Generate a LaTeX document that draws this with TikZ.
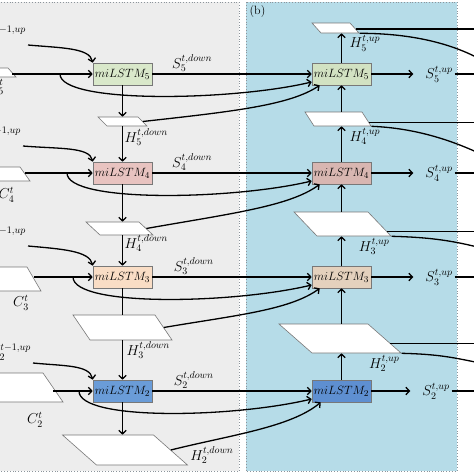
\documentclass[tikz,border=0pt]{standalone}
\usepackage{tikz}
\usetikzlibrary{positioning,calc,arrows.meta}

\definecolor{sfondogrigio}{RGB}{237,237,237}
\definecolor{sfondoblu}{RGB}{182,220,232}
\definecolor{puntini}{RGB}{140,148,155}
\definecolor{bordoblocco}{RGB}{120,120,120}
\definecolor{verde}{RGB}{217,232,202}
\definecolor{rosa}{RGB}{232,195,192}
\definecolor{pesca}{RGB}{249,221,197}
\definecolor{blu}{RGB}{106,156,216}
\definecolor{verdescuro}{RGB}{210,226,194}
\definecolor{rosascuro}{RGB}{216,182,177}
\definecolor{pescascuro}{RGB}{228,209,189}
\definecolor{bluscuro}{RGB}{94,143,209}

\tikzset{
    lstmnet/.style={
        x=1pt, y=-1pt,
        line width=1.3pt,
        % Stile per i blocchi miLSTM (rettangolare)
        milstm/.style={draw=bordoblocco, line width=0.6pt, rectangle,
                       minimum width=59pt, minimum height=22pt,
                       inner sep=0pt, font=\fontsize{12.5}{14}\selectfont},
        % Stile per le etichette degli stati
        etichetta/.style={inner sep=1.5pt, font=\fontsize{14}{16}\selectfont},
        % Stile per le frecce
        freccia/.style={-{Straight Barb[length=3.5pt,width=7.5pt]}},
        % Stile per i pannelli (bordo a puntini)
        pannello/.style={draw=puntini, line width=0.8pt, dotted}
    },
    % Stile per gli stati (parallelogramma): lato, altezza, inclinazione
    stato/.style n args={3}{draw=bordoblocco, fill=white, line width=0.6pt,
        rectangle, inner sep=0pt,
        minimum width=#1, minimum height=#2, xslant=#3}
}

\begin{document}
\begin{tikzpicture}[lstmnet]
    \useasboundingbox (0,0) rectangle (474,474);
    \clip (0,0) rectangle (474,474);
    % pannelli
    \fill[sfondogrigio] (-10,2) rectangle (239,471);
    \draw[pannello] (-10,2) -- (239,2) -- (239,471) -- (-10,471);
    \draw[pannello, fill=sfondoblu] (246,2) rectangle (457,471);
    \node[anchor=north west, inner sep=0pt, font=\fontsize{12}{14}\selectfont] (b) at (249,5) {(b)};
    \coordinate (bordo) at (485,0);

    % pannello di sinistra (verso il basso)
    \node[milstm, fill=verde] (L5) at (122.5,74) {$miLSTM_5$};
    \node[milstm, fill=rosa]  (L4) at (122.5,173) {$miLSTM_4$};
    \node[milstm, fill=pesca] (L3) at (122.5,277) {$miLSTM_3$};
    \node[milstm, fill=blu]   (L2) at (122.5,391) {$miLSTM_2$};
    \node[stato={40pt}{9pt}{-1}]       (Hd5) at (122.5,121.5) {};
    \node[stato={53pt}{13pt}{-1.077}]  (Hd4) at (119.5,228.5) {};
    \node[stato={82pt}{25pt}{-0.68}]   (Hd3) at (122.5,327.5) {};
    \node[stato={91pt}{30pt}{-1.133}]  (Hd2) at (125,450) {};
    \node[stato={41pt}{9pt}{-0.89}]    (C5) at (-8.5,72.5) {};
    \node[stato={57pt}{14pt}{-0.714}]  (C4) at (-3.5,174) {};
    \node[stato={83pt}{24pt}{-0.583}]  (C3) at (-7.5,279) {};
    \node[stato={104pt}{29pt}{-0.69}]  (C2) at (1,387.5) {};
    \node[etichetta] (Ct5) at (-4,87) {$C_5^t$};
    \node[etichetta] (Ct4) at (6.5,195) {$C_4^t$};
    \node[etichetta] (Ct3) at (21,303) {$C_3^t$};
    \node[etichetta] (Ct2) at (35,420) {$C_2^t$};
    \node[etichetta, anchor=south east] (Sp5) at (28,45) {$S_5^{t-1,up}$};
    \node[etichetta, anchor=south east] (Sp4) at (23,146) {$S_4^{t-1,up}$};
    \node[etichetta, anchor=south east] (Sp3) at (28,246) {$S_3^{t-1,up}$};
    \node[etichetta, anchor=south east] (Sp2) at (33,363) {$S_2^{t-1,up}$};
    \coordinate (c5) at (60,74);
    \coordinate (c4) at (67,173);
    \coordinate (c3) at (73,277);
    \coordinate (c2) at (79,391);

    % pannello (b) (verso l'alto)
    \node[milstm, fill=verdescuro] (R5) at (341.5,74) {$miLSTM_5$};
    \node[milstm, fill=rosascuro]  (R4) at (341.5,173) {$miLSTM_4$};
    \node[milstm, fill=pescascuro] (R3) at (341.5,277) {$miLSTM_3$};
    \node[milstm, fill=bluscuro]   (R2) at (341.5,391) {$miLSTM_2$};
    \node[stato={38pt}{10pt}{-0.9}]    (Hu5) at (335.5,28) {};
    \node[stato={57pt}{14pt}{-0.643}]  (Hu4) at (338,119) {};
    \node[stato={74pt}{24pt}{-0.958}]  (Hu3) at (342.5,224) {};
    \node[stato={89pt}{29pt}{-1.138}]  (Hu2) at (340,338.5) {};
    \node[etichetta] (Su5) at (439,74) {$S_5^{t,up}$};
    \node[etichetta] (Su4) at (439,173) {$S_4^{t,up}$};
    \node[etichetta] (Su3) at (439,277) {$S_3^{t,up}$};
    \node[etichetta] (Su2) at (436,391) {$S_2^{t,up}$};
    \coordinate (e5) at (485,62);
    \coordinate (e4) at (485,156);
    \coordinate (e3) at (485,249);
    \coordinate (e2) at (485,364);

    % ingressi dal passo precedente
    \draw[freccia] (Sp5.south east) .. controls +(33,3) and +(-3,-15) .. (L5.north west);
    \draw[freccia] (Sp4.south east) .. controls +(36,3) and +(-3,-15) .. (L4.north west);
    \draw[freccia] (Sp3.south east) .. controls +(33,3) and +(-3,-15) .. (L3.north west);
    \draw[freccia] (Sp2.south east) .. controls +(30,3) and +(-3,-15) .. (L2.north west);
    \draw[freccia] (C5.east |- L5) -- (L5);
    \draw[freccia] (C4.east |- L4) -- (L4);
    \draw[freccia] (C3.east |- L3) -- (L3);
    \draw[freccia] (C2.east |- L2) -- (L2);

    % colonna verso il basso
    \draw[freccia] (L5) -- (L5 |- Hd5.north);
    \draw[freccia] (Hd5.south -| L4) -- (L4) node[etichetta, pos=0.3, right] (hd5) {$H_5^{t,down}$};
    \draw[freccia] (L4) -- (L4 |- Hd4.north);
    \draw[freccia] (Hd4.south -| L3) -- (L3) node[etichetta, pos=0.26, right] (hd4) {$H_4^{t,down}$};
    \draw (L3) -- (L3 |- Hd3.north);
    \draw[freccia] (Hd3.south -| L2) -- (L2) node[etichetta, pos=0.25, right, xshift=2pt] (hd3) {$H_3^{t,down}$};
    \draw[freccia] (L2) -- (L2 |- Hd2.north);
    \node[etichetta, anchor=south west] (hd2) at (Hd2.south east) {$H_2^{t,down}$};

    % stati S verso il pannello (b)
    \draw[freccia] (L5) -- (R5) node[etichetta, pos=0.25, above] (sd5) {$S_5^{t,down}$};
    \draw[freccia] (L4) -- (R4) node[etichetta, pos=0.25, above] (sd4) {$S_4^{t,down}$};
    \draw[freccia] (L3) -- (R3) node[etichetta, pos=0.26, above] (sd3) {$S_3^{t,down}$};
    \draw[freccia] (L2) -- (R2) node[etichetta, pos=0.26, above] (sd2) {$S_2^{t,down}$};
    \draw[freccia] (c5) .. controls +(0,30) and +(-80,19) .. (R5.195);
    \draw[freccia] (c4) .. controls +(0,30) and +(-80,19) .. (R4.195);
    \draw[freccia] (c3) .. controls +(0,30) and +(-80,19) .. (R3.195);
    \draw[freccia] (c2) .. controls +(0,30) and +(-80,19) .. (R2.195);
    \draw[freccia] (Hd5.east) .. controls +(90,-10) and +(-30,20) .. ([xshift=8pt]R5.south west);
    \draw[freccia] (Hd4.east) .. controls +(85,-15) and +(-30,22) .. ([xshift=8pt]R4.south west);
    \draw[freccia] (Hd3.east) .. controls +(70,-12) and +(-30,22) .. ([xshift=8pt]R3.south west);
    \draw[freccia] (Hd2.east) .. controls +(60,-15) and +(-30,25) .. ([xshift=9pt]R2.south west);

    % colonna verso l'alto
    \draw[freccia] (R5) -- (R5 |- Hu5.south) node[etichetta, pos=0.67, right, xshift=6pt] (hu5) {$H_5^{t,up}$};
    \draw[freccia] (Hu4.north -| R5) -- (R5);
    \draw[freccia] (R4) -- (R4 |- Hu4.south) node[etichetta, pos=0.72, right, xshift=6pt] (hu4) {$H_4^{t,up}$};
    \draw[freccia] (Hu3.north -| R4) -- (R4);
    \draw[freccia] (R3) -- (R3 |- Hu3.south);
    \node[etichetta, anchor=north east] (hu3) at (Hu3.south east) {$H_3^{t,up}$};
    \draw[freccia] (Hu2.north -| R3) -- (R3);
    \draw[freccia] (R2) -- (R2 |- Hu2.south);
    \node[etichetta, anchor=north east] (hu2) at (Hu2.south east) {$H_2^{t,up}$};

    % uscite verso destra
    \draw[freccia, shorten >=10pt] (R5) -- (Su5);
    \draw[freccia, shorten >=10pt] (R4) -- (Su4);
    \draw[freccia, shorten >=10pt] (R3) -- (Su3);
    \draw[freccia, shorten >=10pt] (R2) -- (Su2);
    \draw (Su5.east) -- (Su5.east -| bordo);
    \draw (Su4.east) -- (Su4.east -| bordo);
    \draw (Su3.east) -- (Su3.east -| bordo);
    \draw (Su2.east) -- (Su2.east -| bordo);
    \draw (Hu5.-3) -- (Hu5.-3 -| bordo);
    \draw (Hu4.-7) -- (Hu4.-7 -| bordo);
    \draw (Hu3.-11) -- (Hu3.-11 -| bordo);
    \draw (Hu2.-6) -- (Hu2.-6 -| bordo);
    \draw (Hu5.south east) .. controls +(60,0) and +(-25,-15) .. (e5);
    \draw (Hu4.south east) .. controls +(50,2) and +(-25,-12) .. (e4);
    \draw (Hu3.south east) .. controls +(40,1) and +(-30,-8) .. (e3);
    \draw (Hu2.south east) .. controls +(40,1) and +(-30,-6) .. (e2);
\end{tikzpicture}
\end{document}
